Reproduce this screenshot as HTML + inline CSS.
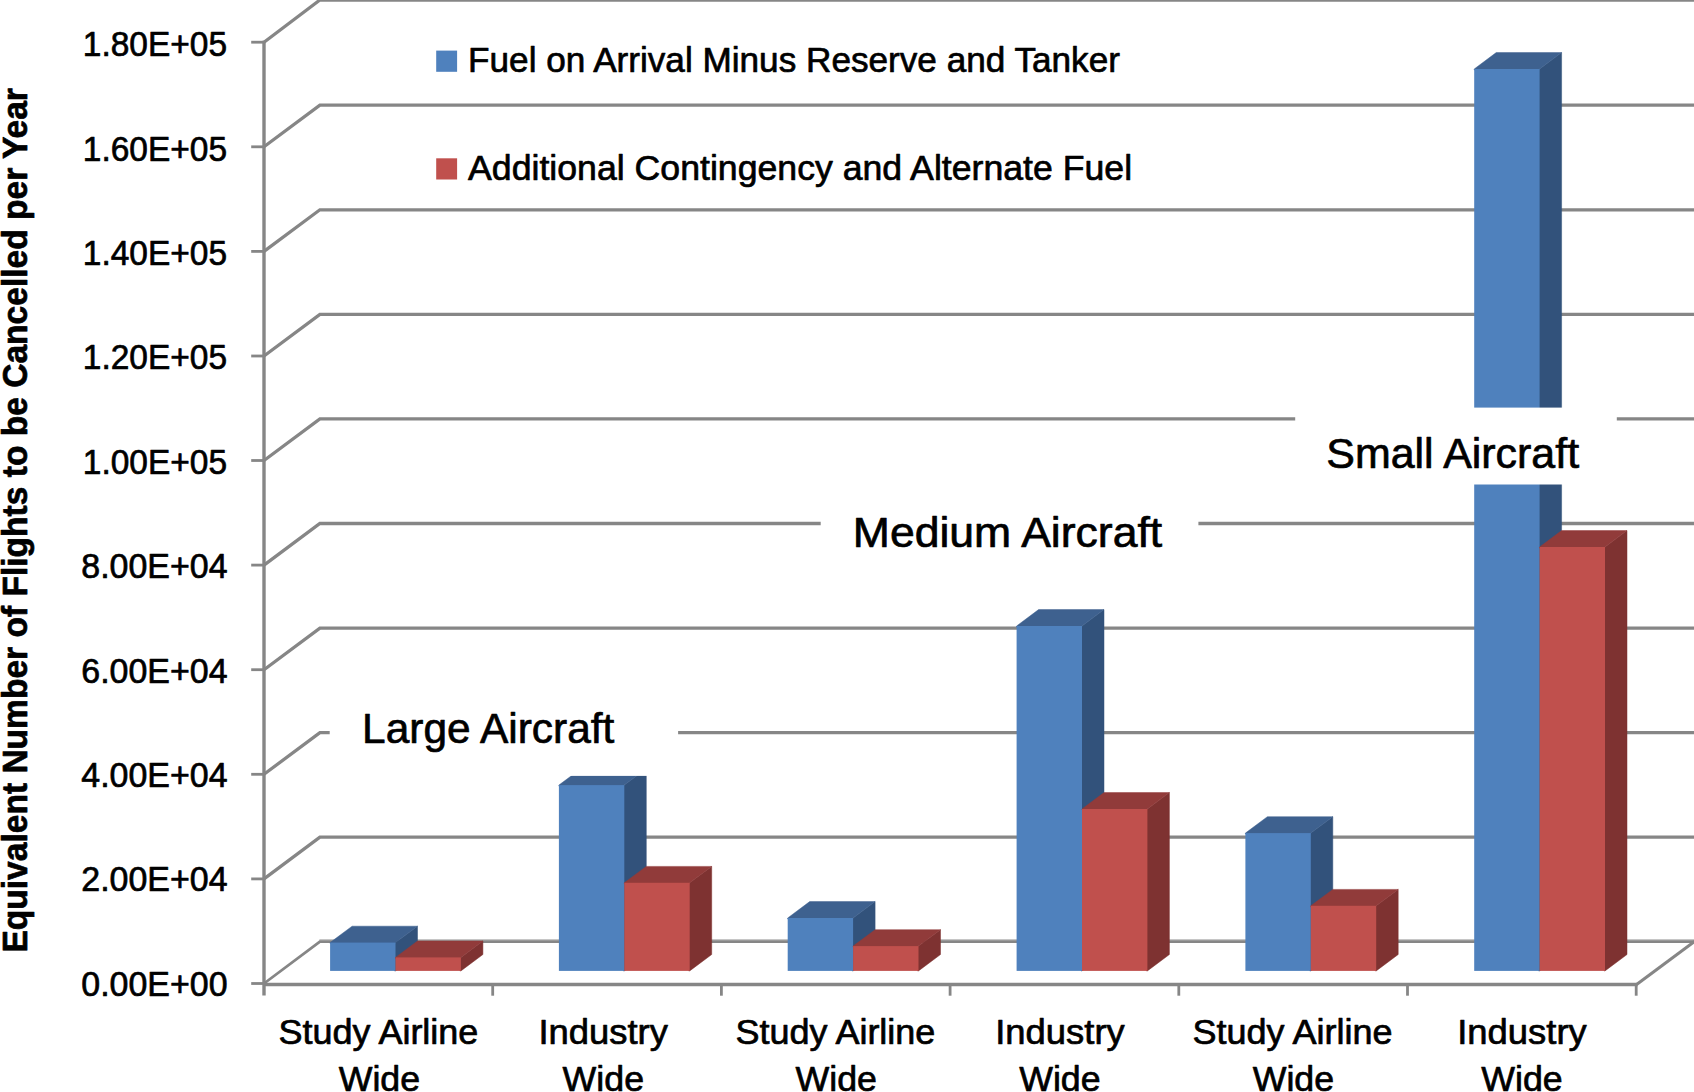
<!DOCTYPE html><html><head><meta charset="utf-8"><title>Chart</title><style>html,body{margin:0;padding:0;background:#fff}svg{display:block}text{font-family:"Liberation Sans",sans-serif;fill:#000;stroke:#000;stroke-width:0.7px;stroke-linejoin:round}</style></head><body>
<svg width="1694" height="1092" viewBox="0 0 1694 1092">
<rect width="1694" height="1092" fill="#fff"/>
<g fill="none" stroke="#868686" stroke-width="3.3" stroke-linejoin="miter">
<line x1="319.4" y1="939.8" x2="1700" y2="939.8" stroke="#c6c6c6" stroke-width="1.8"/>
<polyline points="264.0,983.5 319.9,941.7 1700,941.7" stroke-width="2.8"/>
<polyline points="264.0,878.9 319.9,837.2 1700,837.2"/>
<polyline points="264.0,774.3 319.9,732.6 1700,732.6"/>
<polyline points="264.0,669.7 319.9,628.1 1700,628.1"/>
<polyline points="264.0,565.1 319.9,523.5 1700,523.5"/>
<polyline points="264.0,460.5 319.9,418.9 1700,418.9"/>
<polyline points="264.0,356.0 319.9,314.4 1700,314.4"/>
<polyline points="264.0,251.4 319.9,209.8 1700,209.8"/>
<polyline points="264.0,146.8 319.9,105.2 1700,105.2"/>
<polyline points="264.0,42.2 319.9,0.0 1700,0.0"/>
<polyline points="1636.6,984.6 1694.5,941.4" stroke-width="3.1"/>
</g>
<g>
<polygon points="394.5,942.6 395.5,942.6 417.5,926.2 417.5,954.5 395.5,970.9 394.5,970.9" fill="#32527b" stroke="#32527b" stroke-width="0.5"/><polygon points="330.1,943.6 330.1,942.6 352.1,926.2 417.5,926.2 395.5,942.6 395.5,943.6" fill="#3e618f" stroke="#3e618f" stroke-width="0.5"/><rect x="330.1" y="942.6" width="65.4" height="28.3" fill="#4f81bd"/>
<polygon points="459.9,957.4 460.9,957.4 482.9,941.0 482.9,954.5 460.9,970.9 459.9,970.9" fill="#7e3231" stroke="#7e3231" stroke-width="0.5"/><polygon points="395.5,958.4 395.5,957.4 417.5,941.0 482.9,941.0 460.9,957.4 460.9,958.4" fill="#913b3a" stroke="#913b3a" stroke-width="0.5"/><rect x="395.5" y="957.4" width="65.4" height="13.5" fill="#c0504d"/>
<polygon points="623.3,785.1 624.3,785.1 646.3,768.7 646.3,954.5 624.3,970.9 623.3,970.9" fill="#32527b" stroke="#32527b" stroke-width="0.5"/><polygon points="558.9,786.1 558.9,785.1 580.9,768.7 646.3,768.7 624.3,785.1 624.3,786.1" fill="#3e618f" stroke="#3e618f" stroke-width="0.5"/><rect x="558.9" y="785.1" width="65.4" height="185.8" fill="#4f81bd"/>
<polygon points="688.7,882.8 689.7,882.8 711.7,866.4 711.7,954.5 689.7,970.9 688.7,970.9" fill="#7e3231" stroke="#7e3231" stroke-width="0.5"/><polygon points="624.3,883.8 624.3,882.8 646.3,866.4 711.7,866.4 689.7,882.8 689.7,883.8" fill="#913b3a" stroke="#913b3a" stroke-width="0.5"/><rect x="624.3" y="882.8" width="65.4" height="88.1" fill="#c0504d"/>
<polygon points="852.1,918.0 853.1,918.0 875.1,901.6 875.1,954.5 853.1,970.9 852.1,970.9" fill="#32527b" stroke="#32527b" stroke-width="0.5"/><polygon points="787.7,919.0 787.7,918.0 809.7,901.6 875.1,901.6 853.1,918.0 853.1,919.0" fill="#3e618f" stroke="#3e618f" stroke-width="0.5"/><rect x="787.7" y="918.0" width="65.4" height="52.9" fill="#4f81bd"/>
<polygon points="917.5,946.1 918.5,946.1 940.5,929.7 940.5,954.5 918.5,970.9 917.5,970.9" fill="#7e3231" stroke="#7e3231" stroke-width="0.5"/><polygon points="853.1,947.1 853.1,946.1 875.1,929.7 940.5,929.7 918.5,946.1 918.5,947.1" fill="#913b3a" stroke="#913b3a" stroke-width="0.5"/><rect x="853.1" y="946.1" width="65.4" height="24.8" fill="#c0504d"/>
<polygon points="1081.0,626.0 1082.0,626.0 1104.0,609.6 1104.0,954.5 1082.0,970.9 1081.0,970.9" fill="#32527b" stroke="#32527b" stroke-width="0.5"/><polygon points="1016.6,627.0 1016.6,626.0 1038.6,609.6 1104.0,609.6 1082.0,626.0 1082.0,627.0" fill="#3e618f" stroke="#3e618f" stroke-width="0.5"/><rect x="1016.6" y="626.0" width="65.4" height="344.9" fill="#4f81bd"/>
<polygon points="1146.4,809.0 1147.4,809.0 1169.4,792.6 1169.4,954.5 1147.4,970.9 1146.4,970.9" fill="#7e3231" stroke="#7e3231" stroke-width="0.5"/><polygon points="1082.0,810.0 1082.0,809.0 1104.0,792.6 1169.4,792.6 1147.4,809.0 1147.4,810.0" fill="#913b3a" stroke="#913b3a" stroke-width="0.5"/><rect x="1082.0" y="809.0" width="65.4" height="161.9" fill="#c0504d"/>
<polygon points="1309.8,833.1 1310.8,833.1 1332.8,816.7 1332.8,954.5 1310.8,970.9 1309.8,970.9" fill="#32527b" stroke="#32527b" stroke-width="0.5"/><polygon points="1245.4,834.1 1245.4,833.1 1267.4,816.7 1332.8,816.7 1310.8,833.1 1310.8,834.1" fill="#3e618f" stroke="#3e618f" stroke-width="0.5"/><rect x="1245.4" y="833.1" width="65.4" height="137.8" fill="#4f81bd"/>
<polygon points="1375.2,905.8 1376.2,905.8 1398.2,889.4 1398.2,954.5 1376.2,970.9 1375.2,970.9" fill="#7e3231" stroke="#7e3231" stroke-width="0.5"/><polygon points="1310.8,906.8 1310.8,905.8 1332.8,889.4 1398.2,889.4 1376.2,905.8 1376.2,906.8" fill="#913b3a" stroke="#913b3a" stroke-width="0.5"/><rect x="1310.8" y="905.8" width="65.4" height="65.1" fill="#c0504d"/>
<polygon points="1538.6,69.0 1539.6,69.0 1561.6,52.6 1561.6,954.5 1539.6,970.9 1538.6,970.9" fill="#32527b" stroke="#32527b" stroke-width="0.5"/><polygon points="1474.2,70.0 1474.2,69.0 1496.2,52.6 1561.6,52.6 1539.6,69.0 1539.6,70.0" fill="#3e618f" stroke="#3e618f" stroke-width="0.5"/><rect x="1474.2" y="69.0" width="65.4" height="901.9" fill="#4f81bd"/>
<polygon points="1604.0,547.0 1605.0,547.0 1627.0,530.6 1627.0,954.5 1605.0,970.9 1604.0,970.9" fill="#7e3231" stroke="#7e3231" stroke-width="0.5"/><polygon points="1539.6,548.0 1539.6,547.0 1561.6,530.6 1627.0,530.6 1605.0,547.0 1605.0,548.0" fill="#913b3a" stroke="#913b3a" stroke-width="0.5"/><rect x="1539.6" y="547.0" width="65.4" height="423.9" fill="#c0504d"/>
</g>
<g fill="none" stroke="#868686" stroke-width="2.8">
<line x1="264.0" y1="984.5" x2="1637.6" y2="984.5" stroke-width="3.6"/>
<line x1="251.2" y1="983.5" x2="264.0" y2="983.5"/>
<line x1="264.0" y1="40.8" x2="264.0" y2="995.6" stroke-width="3.4"/>
<line x1="251.2" y1="878.9" x2="264.0" y2="878.9"/>
<line x1="251.2" y1="774.3" x2="264.0" y2="774.3"/>
<line x1="251.2" y1="669.7" x2="264.0" y2="669.7"/>
<line x1="251.2" y1="565.1" x2="264.0" y2="565.1"/>
<line x1="251.2" y1="460.5" x2="264.0" y2="460.5"/>
<line x1="251.2" y1="356.0" x2="264.0" y2="356.0"/>
<line x1="251.2" y1="251.4" x2="264.0" y2="251.4"/>
<line x1="251.2" y1="146.8" x2="264.0" y2="146.8"/>
<line x1="251.2" y1="42.2" x2="264.0" y2="42.2"/>
<line x1="492.7" y1="984" x2="492.7" y2="995.7"/>
<line x1="721.4" y1="984" x2="721.4" y2="995.7"/>
<line x1="950.1" y1="984" x2="950.1" y2="995.7"/>
<line x1="1178.8" y1="984" x2="1178.8" y2="995.7"/>
<line x1="1407.5" y1="984" x2="1407.5" y2="995.7"/>
<line x1="1636.2" y1="984" x2="1636.2" y2="995.7"/>
</g>
<rect x="329.7" y="699" width="348.4" height="76.9" fill="#fff"/>
<rect x="820.7" y="485" width="377.7" height="77" fill="#fff"/>
<rect x="1295.2" y="407.6" width="321.6" height="76.9" fill="#fff"/>
<text x="362.1" y="742.6" font-size="42.5" text-anchor="start" textLength="252.2" lengthAdjust="spacingAndGlyphs">Large Aircraft</text>
<text x="852.8" y="546.8" font-size="42.5" text-anchor="start" textLength="309.4" lengthAdjust="spacingAndGlyphs">Medium Aircraft</text>
<text x="1326.3" y="467.6" font-size="42.5" text-anchor="start" textLength="252.8" lengthAdjust="spacingAndGlyphs">Small Aircraft</text>
<rect x="436.2" y="50.6" width="20.9" height="21.2" fill="#4f81bd"/>
<rect x="436.2" y="158.3" width="20.9" height="21.2" fill="#c0504d"/>
<text x="468.1" y="72.4" font-size="35.5" text-anchor="start" textLength="651.8" lengthAdjust="spacingAndGlyphs">Fuel on Arrival Minus Reserve and Tanker</text>
<text x="468.1" y="179.5" font-size="35.5" text-anchor="start" textLength="664" lengthAdjust="spacingAndGlyphs">Additional Contingency and Alternate Fuel</text>
<text x="227.6" y="995.8" font-size="35" text-anchor="end" textLength="146.3" lengthAdjust="spacingAndGlyphs">0.00E+00</text>
<text x="227.6" y="891.4" font-size="35" text-anchor="end" textLength="146.3" lengthAdjust="spacingAndGlyphs">2.00E+04</text>
<text x="227.6" y="787.0" font-size="35" text-anchor="end" textLength="146.3" lengthAdjust="spacingAndGlyphs">4.00E+04</text>
<text x="227.6" y="682.6" font-size="35" text-anchor="end" textLength="146.3" lengthAdjust="spacingAndGlyphs">6.00E+04</text>
<text x="227.6" y="578.2" font-size="35" text-anchor="end" textLength="146.3" lengthAdjust="spacingAndGlyphs">8.00E+04</text>
<text x="227.0" y="473.8" font-size="35" text-anchor="end" textLength="144.2" lengthAdjust="spacingAndGlyphs">1.00E+05</text>
<text x="227.0" y="369.3" font-size="35" text-anchor="end" textLength="144.2" lengthAdjust="spacingAndGlyphs">1.20E+05</text>
<text x="227.0" y="264.9" font-size="35" text-anchor="end" textLength="144.2" lengthAdjust="spacingAndGlyphs">1.40E+05</text>
<text x="227.0" y="160.5" font-size="35" text-anchor="end" textLength="144.2" lengthAdjust="spacingAndGlyphs">1.60E+05</text>
<text x="227.0" y="56.1" font-size="35" text-anchor="end" textLength="144.2" lengthAdjust="spacingAndGlyphs">1.80E+05</text>
<text x="378.4" y="1043.9" font-size="35" text-anchor="middle" textLength="200.0" lengthAdjust="spacingAndGlyphs">Study Airline</text>
<text x="379.4" y="1091.2" font-size="35" text-anchor="middle" textLength="81.5" lengthAdjust="spacingAndGlyphs">Wide</text>
<text x="603.2" y="1043.9" font-size="35" text-anchor="middle" textLength="129.5" lengthAdjust="spacingAndGlyphs">Industry</text>
<text x="603.3" y="1091.2" font-size="35" text-anchor="middle" textLength="81.5" lengthAdjust="spacingAndGlyphs">Wide</text>
<text x="835.4" y="1043.9" font-size="35" text-anchor="middle" textLength="200.0" lengthAdjust="spacingAndGlyphs">Study Airline</text>
<text x="836.2" y="1091.2" font-size="35" text-anchor="middle" textLength="81.5" lengthAdjust="spacingAndGlyphs">Wide</text>
<text x="1060" y="1043.9" font-size="35" text-anchor="middle" textLength="129.5" lengthAdjust="spacingAndGlyphs">Industry</text>
<text x="1059.9" y="1091.2" font-size="35" text-anchor="middle" textLength="81.5" lengthAdjust="spacingAndGlyphs">Wide</text>
<text x="1292.5" y="1043.9" font-size="35" text-anchor="middle" textLength="200.0" lengthAdjust="spacingAndGlyphs">Study Airline</text>
<text x="1293.4" y="1091.2" font-size="35" text-anchor="middle" textLength="81.5" lengthAdjust="spacingAndGlyphs">Wide</text>
<text x="1522" y="1043.9" font-size="35" text-anchor="middle" textLength="129.5" lengthAdjust="spacingAndGlyphs">Industry</text>
<text x="1522" y="1091.2" font-size="35" text-anchor="middle" textLength="81.5" lengthAdjust="spacingAndGlyphs">Wide</text>
<text transform="translate(26.8,952.6) rotate(-90)" font-size="34.5" font-weight="bold" stroke-width="1" textLength="864.5" lengthAdjust="spacingAndGlyphs">Equivalent Number of Flights to be Cancelled per Year</text>
</svg></body></html>
